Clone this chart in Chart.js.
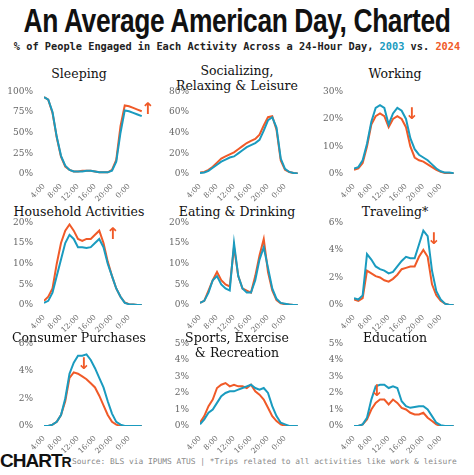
<!DOCTYPE html>
<html><head><meta charset="utf-8">
<script src="https://cdn.jsdelivr.net/npm/chart.js@4"></script>
<style>
body{margin:0;width:474px;height:475px;background:#fff;position:relative;overflow:hidden;font-family:"DejaVu Serif",serif}
#t{position:absolute;top:2px;left:-100px;width:674px;text-align:center;font-family:"Liberation Sans",sans-serif;font-weight:bold;font-size:33px;letter-spacing:-0.5px;color:#111;transform:scaleX(0.8)}
#s{position:absolute;top:40px;left:0;width:474px;text-align:center;font-family:"DejaVu Sans Mono",monospace;font-weight:bold;font-size:10.3px;color:#222}
.pt{position:absolute;text-align:center;width:158px;font-size:12.5px;color:#111;line-height:15px}
canvas{position:absolute}
.ar{position:absolute;color:#f05a28;font-family:"DejaVu Sans";font-size:16px;font-weight:bold}
#f{position:absolute;top:457px;font-family:"DejaVu Sans Mono",monospace;font-size:7.9px;color:#888;white-space:nowrap}
#logo{position:absolute;left:0;top:450px;font-family:"Liberation Sans",sans-serif;font-weight:900;font-size:19px;color:#111;letter-spacing:-1px}
</style></head><body>
<div id="t">An Average American Day, Charted</div>
<div id="s">% of People Engaged in Each Activity Across a 24-Hour Day, <span style="color:#1a9bbf">2003</span> vs. <span style="color:#f05a28">2024</span></div>
<div id="logo">CHART<span style="font-size:14px">R</span></div>
<div id="f" style="left:72px">Source: BLS via IPUMS ATUS | *Trips related to all activities like work &amp; leisure</div>
<script>
const hours=[4,5,6,7,8,9,10,11,12,13,14,15,16,17,18,19,20,21,22,23,24,25,26,27];
const tickHours=[4,8,12,16,20,24];
const titles=["Sleeping","Socializing,<br>Relaxing &amp; Leisure","Working","Household Activities","Eating &amp; Drinking","Traveling*","Consumer Purchases","Sports, Exercise<br>&amp; Recreation","Education"];
const yMax=[100,80,30,20,20,6,6,5,5];
const yStep=[25,20,10,5,5,2,2,1,1];
const s2003=[
[93,90,75,45,22,10,5,3,3,3,4,4,3,2,2,2,4,15,50,77,76,74,72,70],
[1,1.5,3,6,9,12,14,16,17,20,23,26,28,30,33,42,52,55,45,15,5,2,1,0.5],
[2,2.5,5,11,19,24,25,24,18,22,24,23,20,13,9,7,6,5,3.5,2,1,0.5,0.5,0.3],
[0.5,1,3,7,11,15,17,16,14,14,13.8,14,15,16,14,10,7,4,2,0.5,0.2,0.1,0,0],
[0.5,1,3,6,7,5,4,3.5,15,7,4,3,3,6,11,14,9,4,1.5,0.5,0.3,0.1,0,0],
[0.5,0.4,0.7,3.7,3.3,2.8,2.6,2.5,2.3,2.4,2.8,3.2,3.5,3.4,3.4,4.4,5.4,5.0,2.5,1.0,0.4,0.1,0,0],
[0,0,0.1,0.3,0.8,2,3.8,4.6,5.1,5.1,5.2,4.8,4.2,3.5,2.8,1.8,0.9,0.3,0.1,0,0,0,0,0],
[0.1,0.4,0.8,1.0,1.4,1.8,2.0,2.1,2.1,2.2,2.3,2.4,2.5,2.3,2.2,2.3,2.0,1.2,0.6,0.2,0.1,0,0,0],
[0,0,0.1,0.5,1.6,2.4,2.5,2.5,2.3,2.4,2.3,1.5,1.2,1.1,1.15,1.2,1.2,1.0,0.6,0.2,0.05,0,0,0]];
const s2024=[
[93,90,74,44,21,9,5,3,3,4,4,4,3,2,2,2,5,17,58,83,82,80,78,76],
[1.5,2,4,7,11,15,17,19,21,24,27,30,32,34,38,47,55,56,43,13,4,2,1,0.5],
[1.5,2,4,10,18,21,22,21,17,20,21,20,17,10,6,5,4.5,3.5,2.5,1.5,0.8,0.4,0.3,0.2],
[1,2,4,10,15,18,19.5,18,16,15.5,16,16,17,18,15,10.5,7,4,2,0.6,0.2,0.1,0,0],
[0.5,1,3.5,6,8,6,5,4.5,14,7,4,3.5,3,7,12,16,8,3.5,1.2,0.4,0.2,0.1,0,0],
[0.4,0.3,0.5,2.5,2.3,2.1,2.0,1.8,1.7,1.9,2.2,2.6,2.7,2.8,2.8,3.5,4.0,3.5,1.5,0.7,0.3,0.1,0,0],
[0,0,0.1,0.3,0.8,1.8,3.5,3.9,3.8,3.6,3.4,3.1,2.8,2.2,1.5,0.8,0.3,0.1,0,0,0,0,0,0],
[0.2,0.6,1.2,1.6,2.3,2.5,2.6,2.4,2.5,2.4,2.4,2.3,2.5,2.1,1.9,1.6,1.1,0.6,0.3,0.1,0,0,0,0],
[0,0,0.1,0.4,1.0,1.4,1.6,1.6,1.3,1.6,1.4,1.1,1.0,0.8,0.7,0.7,0.8,0.5,0.3,0.1,0,0,0,0]];
const plotTop=[91,222,343];
const titleTop=[[66,63,66],[204,204,204],[330,330,330]];
for(let i=0;i<9;i++){
  const r=Math.floor(i/3),c=i%3;
  const d=document.createElement('div');d.className='pt';
  d.style.left=(c*158)+'px';d.style.top=titleTop[r][c]+'px';d.innerHTML=titles[i];
  document.body.appendChild(d);
  const cv=document.createElement('canvas');
  cv.style.left=(c*158)+'px';cv.style.top=(plotTop[r]-8)+'px';
  cv.style.width='158px';cv.style.height='120px';cv.width=158;cv.height=120;
  document.body.appendChild(cv);
  const pts=a=>a.map((v,k)=>({x:hours[k],y:v}));
  new Chart(cv,{type:'line',data:{datasets:[
    {data:pts(s2003[i]),borderColor:'#1a9bbf',borderWidth:2,pointRadius:0,tension:0},
    {data:pts(s2024[i]),borderColor:'#f05a28',borderWidth:2,pointRadius:0,tension:0}]},
   options:{responsive:false,animation:false,devicePixelRatio:1,
    layout:{padding:{top:6,right:[12,14,16][c],left:0,bottom:0}},
    plugins:{legend:{display:false},tooltip:{enabled:false}},
    scales:{
     x:{type:'linear',min:4,max:28,grid:{display:false},border:{display:false},
        afterBuildTicks:a=>{a.ticks=tickHours.map(v=>({value:v}))},
        afterFit:a=>{a.height=29},
        ticks:{maxRotation:45,minRotation:45,autoSkip:false,font:{family:'DejaVu Serif',size:7.5},color:'#666',padding:0,
          callback:v=>(v%24)+':00'}},
     y:{min:0,max:yMax[i],grid:{display:false},border:{display:false},
        afterFit:a=>{a.width=[44,42,38][c]},
        ticks:{stepSize:yStep[i],font:{family:'DejaVu Serif',size:9},color:'#666',callback:v=>v+'%'}}}}});
}
const arrows=[["↑",141,99],["↓",405,104],["↑",106,224],["↓",427,229],["↓",77,354],["↓",370,381]];
arrows.forEach(a=>{const e=document.createElement('div');e.className='ar';e.textContent=a[0];e.style.left=a[1]+'px';e.style.top=a[2]+'px';document.body.appendChild(e);});
</script></body></html>
